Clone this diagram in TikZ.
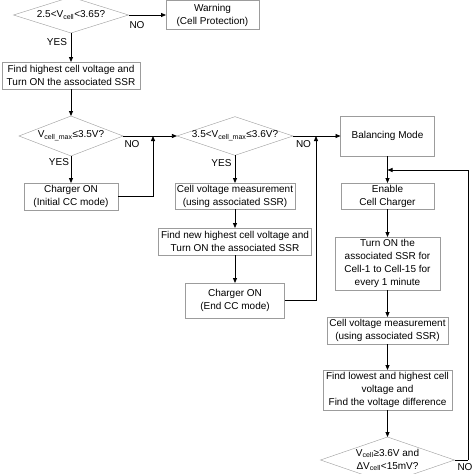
\documentclass[tikz,border=0pt]{standalone}
\usepackage{fontspec}
\setmainfont{Liberation Sans}
\usetikzlibrary{shapes.geometric, arrows.meta}
\definecolor{boxgray}{HTML}{9C9C9C}
\tikzset{
	stepnode/.style={
			rectangle,
			draw=boxgray,
			fill=white,
			align=center,
			inner sep=1pt,
			outer sep=0pt,
			font=\fontsize{10}{13}\selectfont
		},
	testnode/.style={
			diamond,
			aspect=3,
			draw=boxgray,
			fill=white,
			align=center,
			inner sep=0pt,
			outer sep=0pt,
			font=\fontsize{10}{13}\selectfont
		},
	answernode/.style={
			inner sep=0pt,
			font=\fontsize{10}{12}\selectfont
		},
	flow/.style={
			draw=black,
			line width=0.8pt,
			-{Triangle[length=5pt,width=4pt]}
		},
	plainflow/.style={
			draw=black,
			line width=0.8pt
		}
}

\begin{document}
\begin{tikzpicture}[x=1pt, y=-1pt]
\useasboundingbox (0,0) rectangle (474,474);
\clip (0,0) rectangle (474,474);
\fill[white] (0,0) rectangle (474,474);

% first column
\node[testnode, minimum width=115pt, minimum height=36pt] (dCell) at (71,15) {2.5<V\textsubscript{cell}<3.65?};
\node[stepnode, minimum width=93pt, minimum height=29pt] (nWarn) at (212.5,15) {Warning\\(Cell Protection)};
\node[stepnode, minimum width=138pt, minimum height=27pt] (nHigh) at (71,75.5) {Find highest cell voltage and\\Turn ON the associated SSR};
\node[testnode, minimum width=104pt, minimum height=40pt] (dMaxA) at (71,136) {V\textsubscript{cell\_max}≤3.5V?};
\node[stepnode, minimum width=94pt, minimum height=27pt] (nInit) at (71,196.5) {Charger ON\\(Initial CC mode)};

% second column
\node[testnode, minimum width=114pt, minimum height=38pt] (dMaxB) at (235,136) {3.5<V\textsubscript{cell\_max}≤3.6V?};
\node[stepnode, minimum width=120pt, minimum height=26pt] (nMeasA) at (235,196) {Cell voltage measurement\\(using associated SSR)};
\node[stepnode, minimum width=153pt, minimum height=27pt] (nNew) at (235,241.5) {Find new highest cell voltage and\\Turn ON the associated SSR};
\node[stepnode, minimum width=99pt, minimum height=35pt] (nEnd) at (235,300.5) {Charger ON\\(End CC mode)};

% third column
\node[stepnode, minimum width=94pt, minimum height=40pt] (nBal) at (387.5,136) {Balancing Mode};
\node[stepnode, minimum width=93pt, minimum height=26pt] (nEnable) at (387.5,196) {Enable\\Cell Charger};
\node[stepnode, minimum width=105pt, minimum height=53pt] (nTurn) at (387.5,263.5) {Turn ON the\\associated SSR for\\Cell-1 to Cell-15 for\\every 1 minute};
\node[stepnode, minimum width=121pt, minimum height=27pt] (nMeasB) at (387.5,330.5) {Cell voltage measurement\\(using associated SSR)};
\node[stepnode, minimum width=129pt, minimum height=40pt] (nLow) at (387.5,390) {Find lowest and highest cell\\voltage and\\Find the voltage difference};
\node[testnode, minimum width=134pt, minimum height=46pt] (dDiff) at (387.5,460) {V\textsubscript{cell}≥3.6V and\\ΔV\textsubscript{cell}<15mV?};

% joints
\coordinate (jA) at (153,136);
\coordinate (jB) at (316,136);
\coordinate (jC) at (387.5,170);
\coordinate (jD) at (468,460);

% answers
\node[answernode] (yCell) at (57,42) {YES};
\node[answernode] (nCell) at (137,25) {NO};
\node[answernode] (yMaxA) at (59,162) {YES};
\node[answernode] (nMaxA) at (132,144) {NO};
\node[answernode] (yMaxB) at (221.5,163) {YES};
\node[answernode] (nMaxB) at (303.5,144.5) {NO};
\node[answernode] (nDiff) at (465,467.5) {NO};

% connectors
\draw[flow] (dCell.east) -- (nWarn.west);
\draw[flow] (dCell.south) -- (nHigh.north);
\draw[flow] (nHigh.south) -- (dMaxA.north);
\draw[flow] (dMaxA.south) -- (nInit.north);
\draw[flow] (dMaxA.east) -- (dMaxB.west);
\draw[flow] (nInit.east) -| (jA);
\draw[flow] (dMaxB.south) -- (nMeasA.north);
\draw[flow] (nMeasA.south) -- (nNew.north);
\draw[flow] (nNew.south) -- (nEnd.north);
\draw[flow] (dMaxB.east) -- (nBal.west);
\draw[flow] (nEnd.east) -| (jB);
\draw[flow] (nBal.south) -- (nEnable.north);
\draw[flow] (nEnable.south) -- (nTurn.north);
\draw[flow] (nTurn.south) -- (nMeasB.north);
\draw[flow] (nMeasB.south) -- (nLow.north);
\draw[flow] (nLow.south) -- (dDiff.north);
\draw[plainflow] (dDiff.east) -- (jD);
\draw[flow] (jD) |- (jC);

\end{tikzpicture}
\end{document}
